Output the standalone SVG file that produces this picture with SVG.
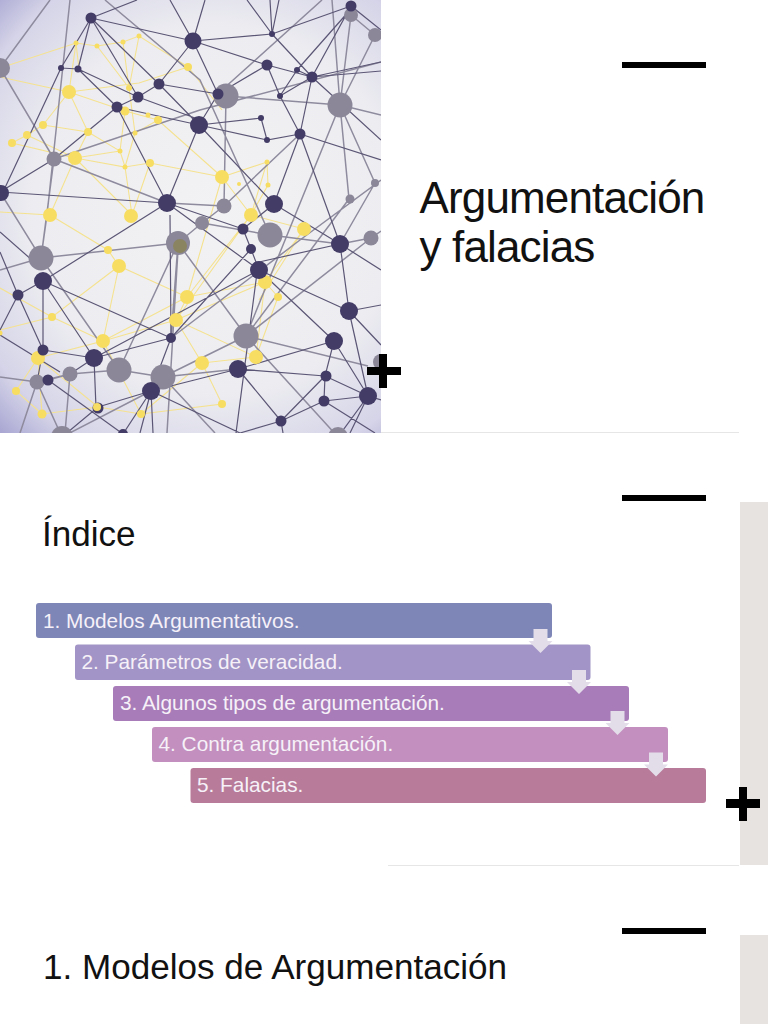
<svg xmlns="http://www.w3.org/2000/svg" width="768" height="1024" viewBox="0 0 768 1024">
<defs>
<radialGradient id="bg" gradientUnits="userSpaceOnUse" cx="215" cy="210" r="330">
<stop offset="0" stop-color="#f2f2f4"/><stop offset="0.55" stop-color="#ededf1"/><stop offset="0.8" stop-color="#d5d4e8"/><stop offset="1" stop-color="#9491c8"/>
</radialGradient>
<clipPath id="c"><rect x="0" y="0" width="381" height="433"/></clipPath>
</defs>
<style>
text{font-family:"Liberation Sans",Arial,sans-serif}
.h{font-size:35.100px;fill:#111}
.t{font-size:44px;fill:#111;letter-spacing:-0.850px}
.b{font-size:20.800px;fill:#f6f1f8}
.y{fill:none;stroke:#f5e28f;stroke-width:1.100}
.g{fill:none;stroke:#8f8b9e;stroke-width:1.500}
.d{fill:none;stroke:#5b5675;stroke-width:1.200}
.yn{fill:#f7dd62}.gn{fill:#8b8799}.dn{fill:#433c66}
.dash{fill:#000}.panel{fill:#e7e3e0}.rule{fill:#e6e6e6}
.arr{fill:#e2dde9}
</style>
<rect width="768" height="1024" fill="#fff"/>
<g id="picture" clip-path="url(#c)">
<rect width="381" height="433" fill="url(#bg)"/>
<path class="y" d="M0 68L76 43L97 46L123 42L139 36L188 67L222 110M0 77L69 92L125 111L158 120L222 177M69 92L139 83L188 67M76 43L69 92M76 43L79 69M97 46L129 88L135 133M123 42L129 88M139 36L129 88M69 92L88 132L75 158L12 143M88 132L43 125L27 135L12 143L75 158M69 92L43 125M125 111L120 151M43 125L88 132L120 151L125 167L150 163L222 177M27 135L75 158L50 215M75 158L120 151M75 158L125 167L135 133L158 120M150 163L132 215M125 167L132 215M75 158L132 215M50 215L0 212M50 215L108 250L119 266L187 297L176 320L251 215M119 266L52 317L0 330M119 266L103 341L38 358M187 297L251 215M187 297L222 177M187 297L265 282M176 320L103 341M176 320L202 363M176 320L256 357L265 282M176 320L265 282M222 177L267 162L251 215L304 229L265 282M222 177L251 215M267 162L268 185L251 215M202 363L222 404L141 414L98 407L38 358L42 414L98 407M202 363L256 357M103 341L141 414M38 358L16 391L42 414M265 282L278 297L256 357M202 363L141 414M187 297L103 341M0 288L52 317L103 341M304 229L259 300"/>
<path class="g" d="M0 68L50 0M70 0L47 215L41 258M0 68L54 159M54 159L200 110L381 62M54 159L167 203M105 0L200 80L270 235M226 96L340 105M222 90L322 0M226 96L224 206M340 105L351 15M340 105L332 0M340 105L375 35M340 105L381 115M340 105L246 336M340 105L349 199M340 105L375 183M351 15L375 35M224 206L300 134M224 206L167 203M224 206L202 223L178 243M202 223L270 235M178 243L41 258L0 270M178 243L246 336M178 243L119 370M41 258L54 159M41 258L0 192M41 258L119 370M270 235L340 244M371 238L340 244M371 238L381 231M371 238L246 336M246 336L163 377M246 336L368 366M246 336L338 437M119 370L70 374L37 382L0 377M119 370L163 377M70 374L48 380M70 374L65 433M37 382L62 437M37 382L20 433M163 377L215 433M163 377L238 369M62 437L151 391M178 243L171 338M178 250L167 433M381 180L300 240L171 338M349 199L246 336M375 183L340 244"/>
<path class="d" d="M91 18L137 0M91 18L193 41M91 18L61 68M91 18L78 69M91 18L138 97M91 18L159 84M61 68L78 69M61 68L3 192M78 69L117 107M78 69L138 97M159 84L193 41M159 84L138 97L117 107M159 84L199 125M117 107L167 203M117 107L199 125M138 97L195 118M159 84L218 94M0 192L167 203M54 159L117 107M54 159L0 192M199 125L167 203M167 203L243 229M193 41L267 65M193 41L272 34L351 6M272 34L312 77M272 34L270 0M272 34L279 0M272 34L247 0M193 41L205 0M193 41L170 0M193 41L218 94M267 65L312 77M267 65L218 94M312 77L351 6L381 30M312 77L280 96M297 70L280 96M297 70L312 77M297 70L350 10M267 65L280 96L300 134M312 77L300 134M312 77L381 62M312 77L381 71M199 125L218 94M199 125L261 118M199 125L267 140M261 118L267 140L300 134M312 77L381 140M300 134L381 160M300 134L340 244M300 134L274 204M199 125L274 204M274 204L340 244M274 204L243 229M243 229L251 249L259 270M340 244L259 262M340 244L349 311M340 244L381 270M259 270L349 311M259 270L334 341M259 270L167 203M251 249L171 338M259 270L94 358M258 265L236 433M349 311L381 305M349 311L381 345M349 311L368 396M334 341L325 376L324 401M334 341L368 396M334 341L238 369M325 376L368 396M324 401L368 396M324 401L281 421M325 376L281 421M324 401L375 433M368 396L350 433M368 396L381 400M238 369L325 376M238 369L151 391M238 369L281 421M281 421L240 433M281 421L283 433M151 391L240 433M0 232L41 268M0 252L18 295M43 281L18 295M18 295L43 350M43 281L43 350M43 281L167 203M43 281L94 358M43 281L171 338M18 295L0 330M43 350L94 358M94 358L171 338M94 358L96 408M43 350L37 382M0 335L60 372M48 380L123 434M70 374L94 358M151 391L163 377M151 391L98 407M151 391L123 434M151 391L140 433M151 391L153 433M98 407L62 437M171 338L151 391M338 437L368 396M170 215L171 338"/>
<g class="yn"><circle cx="69" cy="92" r="7"/><circle cx="75" cy="158" r="7"/><circle cx="50" cy="215" r="7"/><circle cx="131" cy="216" r="7"/><circle cx="222" cy="177" r="7"/><circle cx="119" cy="266" r="7"/><circle cx="187" cy="297" r="7"/><circle cx="176" cy="320" r="7"/><circle cx="108" cy="250" r="4"/><circle cx="304" cy="229" r="7"/><circle cx="251" cy="215" r="7"/><circle cx="265" cy="282" r="7"/><circle cx="278" cy="297" r="4"/><circle cx="38" cy="358" r="7"/><circle cx="103" cy="341" r="7"/><circle cx="202" cy="363" r="7"/><circle cx="256" cy="357" r="7"/><circle cx="42" cy="414" r="4.500"/><circle cx="16" cy="391" r="4"/><circle cx="141" cy="414" r="4"/><circle cx="222" cy="404" r="4"/><circle cx="52" cy="317" r="4"/><circle cx="76" cy="43" r="2.500"/><circle cx="97" cy="46" r="2.500"/><circle cx="123" cy="42" r="2.500"/><circle cx="139" cy="36" r="2.500"/><circle cx="188" cy="67" r="4"/><circle cx="125" cy="111" r="4.500"/><circle cx="158" cy="120" r="4"/><circle cx="148" cy="115" r="2.500"/><circle cx="135" cy="133" r="2.500"/><circle cx="88" cy="132" r="4"/><circle cx="43" cy="125" r="4"/><circle cx="27" cy="135" r="4"/><circle cx="12" cy="143" r="4"/><circle cx="120" cy="151" r="2.500"/><circle cx="150" cy="163" r="4"/><circle cx="125" cy="167" r="2.500"/><circle cx="129" cy="88" r="3"/><circle cx="239" cy="184" r="2"/><circle cx="267" cy="162" r="2.500"/><circle cx="268" cy="185" r="2.500"/><circle cx="0" cy="333" r="2.500"/></g>
<g class="gn"><circle cx="0" cy="68" r="10"/><circle cx="226" cy="96" r="12.500"/><circle cx="340" cy="105" r="12.500"/><circle cx="351" cy="15" r="7"/><circle cx="375" cy="35" r="7"/><circle cx="54" cy="159" r="7.500"/><circle cx="224" cy="206" r="7.500"/><circle cx="202" cy="223" r="7"/><circle cx="270" cy="235" r="12.500"/><circle cx="178" cy="243" r="12"/><circle cx="41" cy="258" r="12.500"/><circle cx="371" cy="238" r="7.500"/><circle cx="375" cy="183" r="4"/><circle cx="350" cy="199" r="4.500"/><circle cx="246" cy="336" r="12.500"/><circle cx="119" cy="370" r="12.500"/><circle cx="163" cy="377" r="12.500"/><circle cx="70" cy="374" r="7.500"/><circle cx="37" cy="382" r="7.500"/><circle cx="62" cy="437" r="11"/><circle cx="338" cy="437" r="10"/><circle cx="381" cy="362" r="8"/></g>
<g class="dn"><circle cx="91" cy="18" r="5.500"/><circle cx="193" cy="41" r="8.500"/><circle cx="61" cy="68" r="3"/><circle cx="78" cy="69" r="3.500"/><circle cx="159" cy="84" r="5.500"/><circle cx="138" cy="97" r="5.500"/><circle cx="117" cy="107" r="5.500"/><circle cx="199" cy="125" r="9"/><circle cx="1" cy="193" r="8"/><circle cx="272" cy="34" r="3"/><circle cx="267" cy="65" r="5.500"/><circle cx="297" cy="70" r="3"/><circle cx="312" cy="77" r="5.500"/><circle cx="351" cy="6" r="5.500"/><circle cx="280" cy="96" r="3"/><circle cx="218" cy="94" r="5.500"/><circle cx="261" cy="118" r="3"/><circle cx="267" cy="140" r="3"/><circle cx="300" cy="134" r="5.500"/><circle cx="167" cy="203" r="9"/><circle cx="274" cy="204" r="9"/><circle cx="243" cy="229" r="5.500"/><circle cx="340" cy="244" r="9"/><circle cx="251" cy="249" r="5"/><circle cx="259" cy="270" r="9"/><circle cx="349" cy="311" r="9"/><circle cx="334" cy="341" r="9"/><circle cx="326" cy="376" r="5.500"/><circle cx="324" cy="401" r="5.500"/><circle cx="368" cy="396" r="9"/><circle cx="238" cy="369" r="9"/><circle cx="281" cy="421" r="5.500"/><circle cx="18" cy="295" r="5.500"/><circle cx="43" cy="281" r="9"/><circle cx="43" cy="350" r="5.500"/><circle cx="94" cy="358" r="9"/><circle cx="48" cy="380" r="5.500"/><circle cx="171" cy="338" r="5"/><circle cx="151" cy="391" r="9"/><circle cx="98" cy="408" r="5.500"/><circle cx="123" cy="434" r="5"/></g>
<circle class="yn" cx="97" cy="407" r="4"/>
<circle cx="180" cy="246" r="7" fill="#8a8460"/>
</g>
<g id="slide1">
<rect class="rule" x="381" y="432" width="358" height="1"/>
<rect class="dash" x="622" y="62" width="84" height="6"/>
<path class="dash" d="M379 354h8v13h14v8h-14v13h-8v-13h-12v-8h12z"/>
<text class="t" x="419.500" y="213">Argumentación</text>
<text class="t" x="419.500" y="262">y falacias</text>
</g>
<g id="slide2">
<rect class="panel" x="740" y="502" width="28" height="363"/>
<rect class="rule" x="388" y="865" width="351" height="1"/>
<rect class="dash" x="622" y="495" width="84" height="6"/>
<path class="dash" d="M739 787h8v12h13v9h-13v13h-8v-13h-13v-9h13z"/>
<text class="h" x="42" y="545.500">Índice</text>
<g id="bar1"><rect x="36" y="603" width="516" height="35" rx="3" fill="#7e86b8"/><text class="b" x="43" y="627.500">1. Modelos Argumentativos.</text></g>
<g id="bar2"><rect x="75" y="644.500" width="515.500" height="35.500" rx="3" fill="#a294c6"/><text class="b" x="81.500" y="668.500">2. Parámetros de veracidad.</text></g>
<g id="bar3"><rect x="113" y="686" width="516" height="35" rx="3" fill="#a87cb8"/><text class="b" x="120" y="709.500">3. Algunos tipos de argumentación.</text></g>
<g id="bar4"><rect x="152" y="727" width="516" height="35" rx="3" fill="#c28fbe"/><text class="b" x="158.500" y="750.500">4. Contra argumentación.</text></g>
<g id="bar5"><rect x="190.500" y="768" width="515.500" height="35" rx="3" fill="#b87c9a"/><text class="b" x="197" y="792">5. Falacias.</text></g>
<g id="arrows">
<path class="arr" d="M533.500 629h14v12h5l-12 12-12-12h5z"/>
<path class="arr" d="M572 670h14v12h5l-12 12-12-12h5z"/>
<path class="arr" d="M610.500 711h14v12h5l-12 12-12-12h5z"/>
<path class="arr" d="M649 752.500h14v12h5l-12 12-12-12h5z"/>
</g>
</g>
<g id="slide3">
<rect class="panel" x="740" y="935" width="28" height="89"/>
<rect class="dash" x="622" y="928" width="84" height="6"/>
<text class="h" x="43" y="978.500">1. Modelos de Argumentación</text>
</g>
</svg>
